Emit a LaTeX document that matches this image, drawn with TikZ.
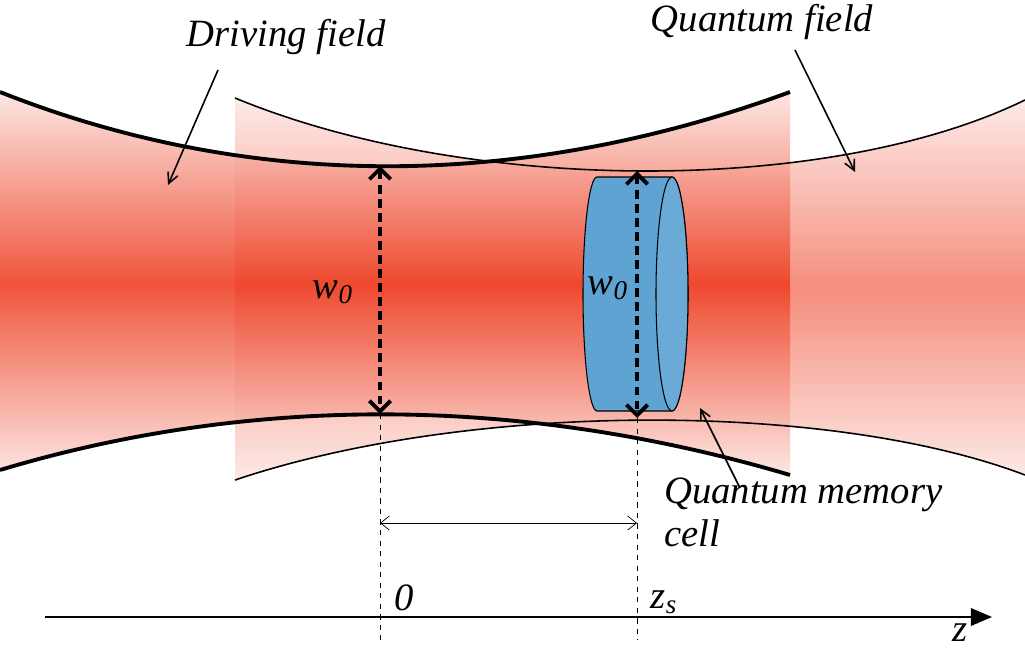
\documentclass[tikz,border=0pt]{standalone}
\usepackage{fontspec}
\setmainfont{Liberation Serif}[ItalicFont={Liberation Serif Italic}]
\usetikzlibrary{arrows.meta}
\definecolor{beamred}{HTML}{EE4226}
\definecolor{beampale}{HTML}{FCE4E0}
\definecolor{cellblue}{HTML}{5FA3D3}
\definecolor{cellface}{HTML}{6BA9D6}
\tikzset{
  lbl/.style={font=\fontsize{22}{24}\selectfont\itshape, inner sep=0pt},
  thickedge/.style={line width=2.2pt},
  thinedge/.style={line width=0.9pt},
  waist/.style={line width=2.2pt, dash pattern=on 5pt off 3pt, {Straight Barb[length=6pt,width=12pt]}-{Straight Barb[length=6pt,width=12pt]}},
  guide/.style={thin, dashed},
  pointer/.style={line width=0.9pt, -{Straight Barb[length=6pt,width=6pt]}}
}
\begin{document}
\begin{tikzpicture}[x=0.02cm,y=-0.02cm]
\useasboundingbox (0,0) rectangle (1025,649);
% quantum field fill
\shade[top color=beampale, bottom color=beampale, middle color=beamred!80, opacity=0.75]
  (235,98) .. controls (470,195) and (830,195) .. (1025,100) -- (1025,475)
  .. controls (830,401) and (470,401) .. (235,480) -- cycle;
% driving field fill
\shade[top color=beampale, bottom color=beampale, middle color=beamred, opacity=0.9]
  (0,92) .. controls (250,191) and (520,191) .. (790,92) -- (790,475)
  .. controls (520,395) and (250,395) .. (0,470) -- cycle;
% edges
\draw[thickedge] (0,92) .. controls (250,191) and (520,191) .. (790,92);
\draw[thickedge] (0,470) .. controls (250,395) and (520,395) .. (790,475);
\draw[thinedge] (235,98) .. controls (470,195) and (830,195) .. (1025,100);
\draw[thinedge] (235,480) .. controls (470,401) and (830,401) .. (1025,475);
% memory cell
\draw[fill=cellblue, line width=0.6pt] (597,177) -- (672,177) arc[start angle=90,end angle=-90,x radius=16,y radius=-117]
  -- (597,411) arc[start angle=-90,end angle=-270,x radius=14,y radius=-117] -- cycle;
\draw[fill=cellface, line width=0.6pt] (672,294) ellipse[x radius=16, y radius=117];
% coordinates
\coordinate (a1) at (380,166); \coordinate (a2) at (380,414);
\coordinate (b1) at (637,171); \coordinate (b2) at (637,418);
\coordinate (a3) at (380,640); \coordinate (b3) at (637,640);
\coordinate (da) at (380,523); \coordinate (db) at (637,523);
\coordinate (ax1) at (45,617); \coordinate (ax2) at (992,617);
\draw[waist] (a1) -- (a2);
\draw[waist] (b1) -- (b2);
\draw[guide] (a2) -- (a3);
\draw[guide] (b2) -- (b3);
\draw[thin, {Straight Barb[length=5pt,width=8pt]}-{Straight Barb[length=5pt,width=8pt]}] (da) -- (db);
\draw[line width=1pt, -{Triangle[length=12pt,width=10pt]}] (ax1) -- (ax2);
% labels
\node[lbl] (w1) at (333,292) {w\textsubscript{0}};
\node[lbl] (w2) at (608,288) {w\textsubscript{0}};
\node[lbl] (zero) at (404,598) {0};
\node[lbl] (zs) at (664,602) {z\textsubscript{s}};
\node[lbl] (z) at (960,633) {z};
\node[lbl] (drv) at (286,37) {Driving field};
\node[lbl] (qf) at (762,22) {Quantum field};
\node[lbl, align=left, anchor=north west] (qm) at (664,478) {Quantum memory\\cell};
\coordinate (p1) at (218,70); \coordinate (p1e) at (168,185);
\coordinate (p2) at (795,50); \coordinate (p2e) at (855,172);
\coordinate (p3) at (740,488); \coordinate (p3e) at (700,408);
\draw[pointer] (p1) -- (p1e);
\draw[pointer] (p2) -- (p2e);
\draw[pointer] (p3) -- (p3e);
\end{tikzpicture}
\end{document}
